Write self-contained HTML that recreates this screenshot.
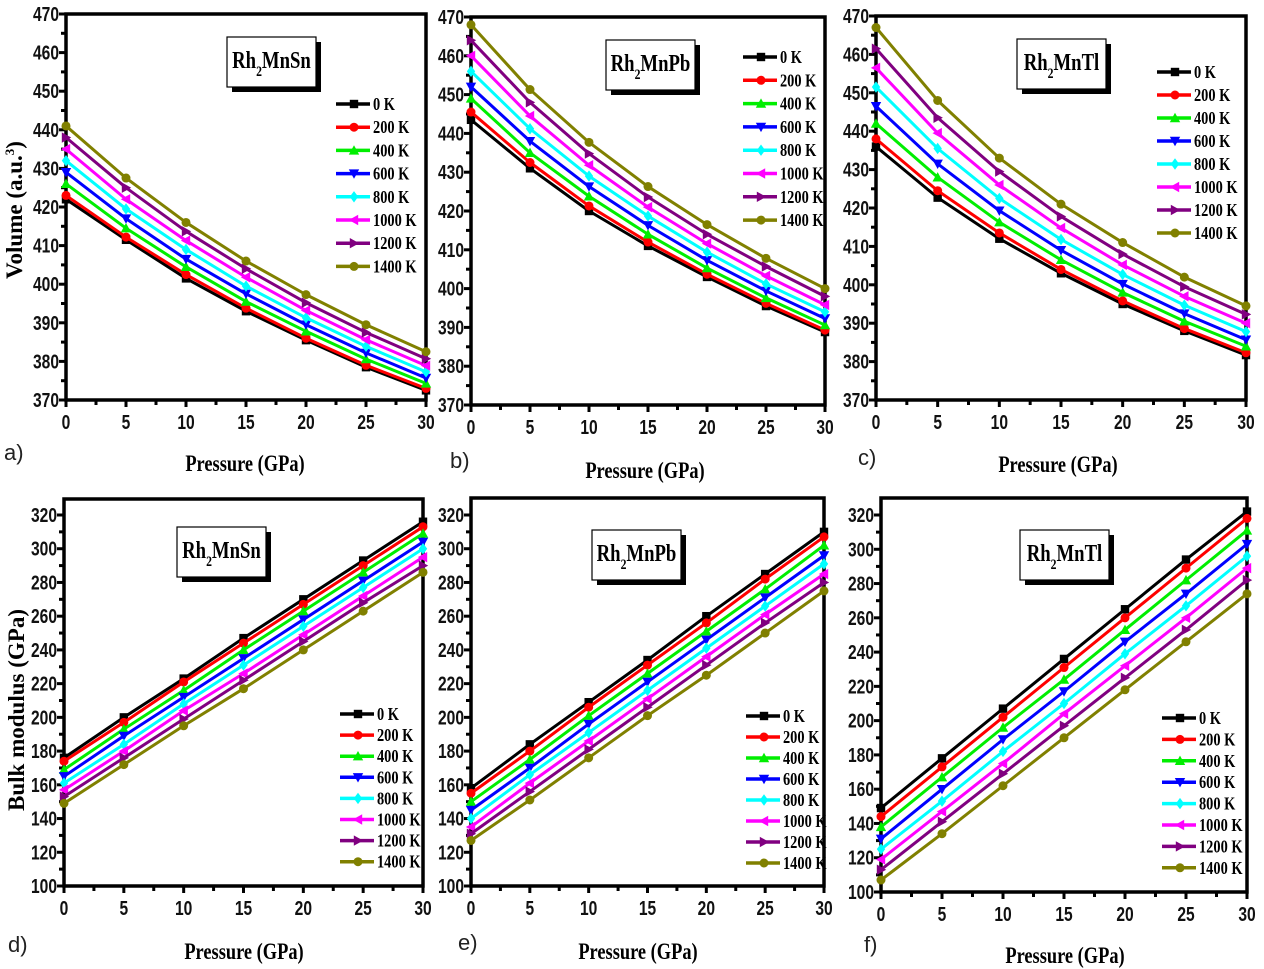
<!DOCTYPE html>
<html><head><meta charset="utf-8"><style>
html,body{margin:0;padding:0;background:#fff;}
svg{display:block;}
.tk{font-family:"Liberation Sans Narrow","Liberation Sans",sans-serif;font-weight:bold;font-size:20px;fill:#111;}
.ser{font-family:"Liberation Serif",serif;font-weight:bold;fill:#000;}
.lt{font-family:"Liberation Sans","DejaVu Sans",sans-serif;font-size:22px;fill:#222;}
</style></head><body>
<svg id="fig" width="1264" height="969" viewBox="0 0 1264 969" xmlns="http://www.w3.org/2000/svg"></svg>
<script>
const pressures=[0,5,10,15,20,25,30];
const temps=["0 K","200 K","400 K","600 K","800 K","1000 K","1200 K","1400 K"];
const colors=["#000000","#ff0000","#00ee00","#0000ff","#00ffff","#ff00ff","#800080","#808000"];
const markers=["square","circle","up","down","diamond","left","right","circle"];
const volTicks=[370,380,390,400,410,420,430,440,450,460,470];
const bulkTicks=[100,120,140,160,180,200,220,240,260,280,300,320];
const xTicks=[0,5,10,15,20,25,30];
const volSn=[
[422,411.5,401.5,393,385.5,378.5,372.5],
[423,412.2,402.5,393.8,386,379,373],
[426,414.5,404.5,395.5,387.8,380.6,374.3],
[429,417,406.5,397.5,389.5,382.2,375.7],
[432,419.5,409,399.5,391.3,383.9,377.3],
[435,422,411.3,401.8,393.2,385.6,378.9],
[438,425,413.7,404,395.2,387.5,380.7],
[441,427.5,416,406,397.3,389.5,382.5]];
const volPb=[
[443.5,431,420,411,403,395.5,388.8],
[445.5,432.5,421.3,412,403.7,396.2,389.3],
[449,435,423.8,414,405.3,397.6,390.6],
[452,438,426.3,416.3,407.3,399.4,392.3],
[456,441.2,429,418.7,409.4,401.2,394],
[460,444.5,431.8,421,411.6,403.3,395.8],
[464,448,434.8,423.6,414,405.7,398],
[468,451.3,437.7,426.3,416.5,407.8,400]];
const volTl=[
[436,422.7,412,403,395,388,381.7],
[438,424.5,413.5,404,395.8,388.6,382.3],
[442,428,416.3,406.5,398,390.5,384],
[446.5,431.5,419.3,409,400.2,392.5,385.7],
[451.5,435.5,422.5,411.8,402.7,394.7,387.8],
[456.5,439.5,426,414.8,405.2,397,390],
[461.5,443.5,429.5,417.8,408,399.5,392.3],
[467,448,433,421,411,402,394.5]];
const bulkSn=[
[176,200,223,247,270,293,316],
[174,197,221,244,267,290,313],
[169,193,216,240,263,286,309],
[165,189,212,235,258,281,304],
[161,184,208,231,254,277,300],
[157,180,204,226,249,272,295],
[153,176,199,222,245,268,290],
[149,172,195,217,240,263,286]];
const bulkPb=[
[158,184,209,234,260,285,310],
[155,180,206,231,256,282,307],
[150,175,201,226,251,276,302],
[145,170,196,221,246,271,296],
[140,166,191,216,241,266,291],
[135,161,186,211,236,261,285],
[131,156,181,206,231,256,280],
[127,151,176,201,225,250,275]];
const bulkTl=[
[149,178,207,236,265,294,322],
[144,173,202,231,260,289,318],
[138,167,196,224,253,282,311],
[131,160,189,217,246,274,303],
[125,153,182,210,239,267,296],
[119,147,175,204,232,260,289],
[113,141,169,197,225,253,282],
[107,134,162,190,218,246,274]];

const NS="http://www.w3.org/2000/svg";
const svg=document.getElementById('fig');
function mk(tag,attrs,parent){const e=document.createElementNS(NS,tag);for(const k in attrs)e.setAttribute(k,attrs[k]);(parent||svg).appendChild(e);return e;}
function sx(x,k){return `translate(${x},0) scale(${k},1) translate(${-x},0)`;}

function marker(g,type,x,y,c){
  const s=4.2;let e;
  if(type==="square")e=mk('rect',{x:x-s,y:y-s,width:2*s,height:2*s,fill:c},g);
  else if(type==="circle")e=mk('circle',{cx:x,cy:y,r:s+0.3,fill:c},g);
  else{
    let p;
    if(type==="up")p=[[x,y-s-1],[x-s-1,y+s],[x+s+1,y+s]];
    else if(type==="down")p=[[x,y+s+1],[x-s-1,y-s],[x+s+1,y-s]];
    else if(type==="left")p=[[x-s-1,y],[x+s,y-s-1],[x+s,y+s+1]];
    else if(type==="right")p=[[x+s+1,y],[x-s,y-s-1],[x-s,y+s+1]];
    else p=[[x,y-s-1.5],[x+s,y],[x,y+s+1.5],[x-s,y]];
    e=mk('polygon',{points:p.map(q=>q.join(',')).join(' '),fill:c},g);
  }
  return e;
}

function panel(o){
  const g=mk('g',{});
  
  
  const xs=v=>o.x0+(v-0)/30*(o.x30-o.x0);
  const ys=v=>o.yb+(v-o.vmin)/(o.vmax-o.vmin)*(o.yt-o.yb);
  const fr=mk('rect',{x:o.x0,y:o.ft,width:o.x30-o.x0,height:o.fb-o.ft,fill:'none',stroke:'#000','stroke-width':3.5},g);
  
  
  for(let i=0;i<xTicks.length;i++){
    const x=xs(xTicks[i]);
    mk('line',{x1:x,y1:o.fb,x2:x,y2:o.fb+7,stroke:'#000','stroke-width':3},g);
    if(i<xTicks.length-1){const xm=xs(xTicks[i]+2.5);mk('line',{x1:xm,y1:o.fb,x2:xm,y2:o.fb+5,stroke:'#000','stroke-width':3},g);}
    const t=mk('text',{x:x,y:o.fb+29,'text-anchor':'middle',class:'tk',transform:sx(x,0.78)},g);
    t.textContent=xTicks[i];
    
    
  }
  const tv=o.ticks;
  for(let i=0;i<tv.length;i++){
    const y=ys(tv[i]);
    mk('line',{x1:o.x0-7,y1:y,x2:o.x0,y2:y,stroke:'#000','stroke-width':3},g);
    if(i<tv.length-1){const ym=ys((tv[i]+tv[i+1])/2);mk('line',{x1:o.x0-5,y1:ym,x2:o.x0,y2:ym,stroke:'#000','stroke-width':3},g);}
    const t=mk('text',{x:o.x0-7,y:y+7,'text-anchor':'end',class:'tk',transform:sx(o.x0-7,0.78)},g);
    t.textContent=tv[i];
    
    
  }
  for(let s=0;s<o.data.length;s++){
    const sg=mk('g',{},g);
    
    
    const pts=pressures.map((p,i)=>xs(p)+','+ys(o.data[s][i])).join(' ');
    mk('polyline',{points:pts,fill:'none',stroke:colors[s],'stroke-width':3,'stroke-linejoin':'round'},sg);
    pressures.forEach((p,i)=>{const m=marker(sg,markers[s],xs(p),ys(o.data[s][i]),colors[s]);
      
      });
  }
  const tb=mk('g',{},g);
  
  
  mk('rect',{x:o.bx+5,y:o.by+5,width:89,height:50,fill:'#000'},tb);
  mk('rect',{x:o.bx,y:o.by,width:89,height:50,fill:'#fff',stroke:'#000','stroke-width':1.2},tb);
  const tt=mk('text',{x:o.bx+44.5,y:o.by+31,'text-anchor':'middle',class:'ser','font-size':'24',transform:sx(o.bx+44.5,0.78)},tb);
  tt.innerHTML='Rh<tspan font-size="15" dy="8">2</tspan><tspan dy="-8">'+o.comp+'</tspan>';
  const lg=mk('g',{},g);
  
  
  for(let s=0;s<temps.length;s++){
    const y=o.ly+s*o.ld;
    const le=mk('g',{},lg);
    
    
    mk('line',{x1:o.lx,y1:y,x2:o.lx+34,y2:y,stroke:colors[s],'stroke-width':3.5},le);
    marker(le,markers[s],o.lx+18,y,colors[s]);
    const t=mk('text',{x:o.lx+37,y:y+6,class:'ser','font-size':'18',transform:sx(o.lx+37,0.8)},le);
    t.textContent=temps[s];
  }
  const xt=mk('text',{x:o.xtx,y:o.xty,'text-anchor':'middle',class:'ser','font-size':'23',transform:sx(o.xtx,0.8)},g);
  xt.textContent='Pressure (GPa)';
  
  
  const pl=mk('text',{x:o.plx,y:o.ply,class:'lt'},g);
  pl.textContent=o.letter;
  
  
}

panel({name:'panel-a',data:volSn,comp:'MnSn',ticks:volTicks,vmin:370,vmax:470,x0:66,x30:426,yt:14,yb:400,ft:14,fb:400,bx:227,by:37,lx:336,ly:104,ld:23.2,xtx:245,xty:471,letter:'a)',plx:4,ply:460});
panel({name:'panel-b',data:volPb,comp:'MnPb',ticks:volTicks,vmin:370,vmax:470,x0:471,x30:825,yt:17,yb:405,ft:17,fb:405,bx:606,by:40,lx:743,ly:57,ld:23.3,xtx:645,xty:478,letter:'b)',plx:450,ply:468});
panel({name:'panel-c',data:volTl,comp:'MnTl',ticks:volTicks,vmin:370,vmax:470,x0:876,x30:1246,yt:16,yb:400,ft:16,fb:400,bx:1017,by:39,lx:1157,ly:72,ld:23,xtx:1058,xty:472,letter:'c)',plx:858,ply:465});
panel({name:'panel-d',data:bulkSn,comp:'MnSn',ticks:bulkTicks,vmin:100,vmax:320,x0:64,x30:423,yt:515,yb:886,ft:499,fb:886,bx:177,by:527,lx:340,ly:714,ld:21.1,xtx:244,xty:959,letter:'d)',plx:8,ply:952});
panel({name:'panel-e',data:bulkPb,comp:'MnPb',ticks:bulkTicks,vmin:100,vmax:320,x0:471,x30:824,yt:515,yb:886,ft:498,fb:886,bx:592,by:530,lx:746,ly:716,ld:21,xtx:638,xty:959,letter:'e)',plx:458,ply:950});
panel({name:'panel-f',data:bulkTl,comp:'MnTl',ticks:bulkTicks,vmin:100,vmax:320,x0:881,x30:1247,yt:515,yb:892,ft:498,fb:892,bx:1020,by:530,lx:1162,ly:718,ld:21.4,xtx:1065,xty:963,letter:'f)',plx:864,ply:952});

const yt1=mk('text',{x:0,y:0,'text-anchor':'middle',class:'ser','font-size':'23',transform:'translate(22,210) rotate(-90)'});
yt1.innerHTML='Volume (a.u.<tspan font-size="13" dy="-8">3</tspan><tspan dy="8">)</tspan>';


const yt2=mk('text',{x:0,y:0,'text-anchor':'middle',class:'ser','font-size':'23',transform:'translate(24,710) rotate(-90)'});
yt2.textContent='Bulk modulus (GPa)';


</script>
</body></html>
